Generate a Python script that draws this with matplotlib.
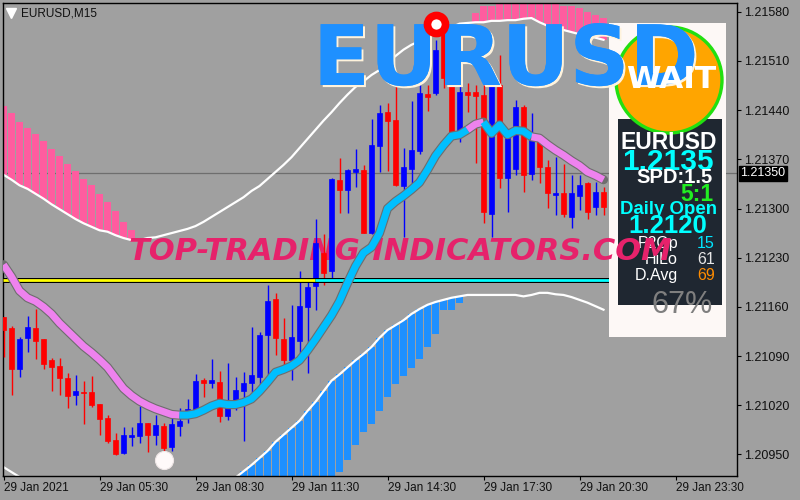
import matplotlib
matplotlib.use("Agg")
import matplotlib.pyplot as plt
import matplotlib.patheffects as pe
from matplotlib.patches import Rectangle, Circle
from matplotlib.transforms import IdentityTransform, blended_transform_factory
import numpy as np

W, H = 800, 500
BG = "#A0A0A0"

# ---- EURUSD M15 candles (bar index 0 = 29 Jan 02:30) ----
opens = [1.21146, 1.21130, 1.21072, 1.21116, 1.21130, 1.21114, 1.21084, 1.21076, 1.21059, 1.21035,
         1.21039, 1.21039, 1.21022, 1.21002, 1.20971, 1.20952, 1.20975, 1.20976, 1.20995, 1.20978,
         1.20990, 1.20961, 1.20990, 1.21009, 1.21010, 1.21056, 1.21052, 1.21053, 1.21005, 1.21026,
         1.21040, 1.21052, 1.21060, 1.21120, 1.21171, 1.21114, 1.21084, 1.21111, 1.21160, 1.21190,
         1.21237, 1.21211, 1.21341, 1.21326, 1.21352, 1.21355, 1.21265, 1.21389, 1.21437, 1.21426,
         1.21332, 1.21356, 1.21382, 1.21463, 1.21464, 1.21551, 1.21477, 1.21407, 1.21466, 1.21466,
         1.21462, 1.21292, 1.21476, 1.21343, 1.21356, 1.21444, 1.21349, 1.21400, 1.21359, 1.21319,
         1.21322, 1.21288, 1.21318, 1.21336, 1.21302, 1.21323]
highs = [1.21146, 1.21133, 1.21117, 1.21147, 1.21157, 1.21114, 1.21087, 1.21087, 1.21066, 1.21063,
         1.21055, 1.21062, 1.21022, 1.21006, 1.20980, 1.20989, 1.20989, 1.21019, 1.20995, 1.21006,
         1.20995, 1.21013, 1.21016, 1.21029, 1.21064, 1.21059, 1.21086, 1.21069, 1.21080, 1.21060,
         1.21067, 1.21131, 1.21124, 1.21191, 1.21180, 1.21144, 1.21163, 1.21211, 1.21195, 1.21285,
         1.21264, 1.21343, 1.21372, 1.21356, 1.21385, 1.21362, 1.21427, 1.21447, 1.21450, 1.21479,
         1.21386, 1.21453, 1.21476, 1.21476, 1.21540, 1.21561, 1.21497, 1.21479, 1.21479, 1.21476,
         1.21476, 1.21483, 1.21518, 1.21412, 1.21454, 1.21447, 1.21436, 1.21405, 1.21369, 1.21373,
         1.21363, 1.21348, 1.21348, 1.21338, 1.21338, 1.21331]
lows = [1.21089, 1.21035, 1.21060, 1.21096, 1.21086, 1.21072, 1.21040, 1.21035, 1.21016, 1.21020,
        1.20993, 1.21018, 1.20978, 1.20967, 1.20949, 1.20951, 1.20962, 1.20966, 1.20953, 1.20963,
        1.20955, 1.20955, 1.20976, 1.20995, 1.21006, 1.21032, 1.21045, 1.20996, 1.20999, 1.21013,
        1.20969, 1.21037, 1.21049, 1.21056, 1.21092, 1.21077, 1.21056, 1.21089, 1.21066, 1.21156,
        1.21191, 1.21201, 1.21294, 1.21294, 1.21331, 1.21265, 1.21264, 1.21352, 1.21353, 1.21332,
        1.21259, 1.21329, 1.21378, 1.21439, 1.21462, 1.21471, 1.21402, 1.21395, 1.21437, 1.21365,
        1.21279, 1.21259, 1.21329, 1.21295, 1.21348, 1.21323, 1.21341, 1.21336, 1.21301, 1.21291,
        1.21288, 1.21272, 1.21298, 1.21285, 1.21291, 1.21291]
closes = [1.21127, 1.21072, 1.21114, 1.21131, 1.21111, 1.21079, 1.21074, 1.21059, 1.21033, 1.21040,
          1.21037, 1.21020, 1.21000, 1.20969, 1.20951, 1.20978, 1.20978, 1.20995, 1.20978, 1.20992,
          1.20959, 1.20993, 1.20998, 1.21015, 1.21055, 1.21052, 1.21056, 1.21005, 1.21027, 1.21042,
          1.21052, 1.21063, 1.21120, 1.21168, 1.21116, 1.21084, 1.21117, 1.21161, 1.21188, 1.21251,
          1.21208, 1.21342, 1.21326, 1.21355, 1.21356, 1.21265, 1.21390, 1.21436, 1.21425, 1.21333,
          1.21359, 1.21383, 1.21464, 1.21459, 1.21525, 1.21486, 1.21407, 1.21466, 1.21462, 1.21460,
          1.21295, 1.21476, 1.21343, 1.21400, 1.21444, 1.21348, 1.21400, 1.21359, 1.21322, 1.21322,
          1.21292, 1.21322, 1.21333, 1.21295, 1.21323, 1.21302]

# ---- trend moving average and its direction (1 = up / cyan, 0 = down / violet) ----
ma_line = [1.21220, 1.21203, 1.21183, 1.21173, 1.21168, 1.21160, 1.21150, 1.21137, 1.21126, 1.21115,
           1.21104, 1.21095, 1.21085, 1.21074, 1.21059, 1.21044, 1.21034, 1.21026, 1.21020, 1.21015,
           1.21011, 1.21007, 1.21006, 1.21006, 1.21008, 1.21013, 1.21019, 1.21023, 1.21021, 1.21021,
           1.21024, 1.21029, 1.21040, 1.21053, 1.21067, 1.21071, 1.21076, 1.21084, 1.21098, 1.21114,
           1.21131, 1.21148, 1.21168, 1.21194, 1.21218, 1.21237, 1.21245, 1.21265, 1.21300, 1.21310,
           1.21318, 1.21327, 1.21337, 1.21355, 1.21375, 1.21390, 1.21403, 1.21405, 1.21412, 1.21420,
           1.21423, 1.21407, 1.21419, 1.21405, 1.21411, 1.21410, 1.21402, 1.21400, 1.21391, 1.21383,
           1.21376, 1.21368, 1.21361, 1.21352, 1.21347, 1.21341]
ma_trend = [0, 0, 0, 0, 0, 0, 0, 0, 0, 0, 0, 0, 0, 0, 0, 0, 0, 0, 0, 0, 0, 0, 0, 1, 1,
            1, 1, 1, 1, 1, 1, 1, 1, 1, 1, 1, 1, 1, 1, 1, 1, 1, 1, 1, 1, 1, 1, 1, 1, 1,
            1, 1, 1, 1, 1, 1, 1, 1, 1, 0, 0, 1, 1, 1, 1, 1, 1, 0, 0, 0, 0, 0, 0, 0, 0, 0]

# ---- channel bands ----
upper_band = [1.21348, 1.21341, 1.21333, 1.21328, 1.21321, 1.21314, 1.21306, 1.21299, 1.21292, 1.21285,
              1.21279, 1.21274, 1.21269, 1.21267, 1.21262, 1.21258, 1.21255, 1.21255, 1.21258, 1.21259,
              1.21262, 1.21265, 1.21268, 1.21271, 1.21275, 1.21281, 1.21288, 1.21295, 1.21302, 1.21309,
              1.21316, 1.21325, 1.21332, 1.21342, 1.21352, 1.21362, 1.21373, 1.21386, 1.21399, 1.21412,
              1.21425, 1.21437, 1.21450, 1.21462, 1.21473, 1.21481, 1.21490, 1.21497, 1.21508, 1.21517,
              1.21526, 1.21533, 1.21538, 1.21544, 1.21550, 1.21554, 1.21558, 1.21563, 1.21564, 1.21565,
              1.21565, 1.21567, 1.21567, 1.21568, 1.21568, 1.21570, 1.21571, 1.21565, 1.21560, 1.21557,
              1.21554, 1.21551, 1.21548, 1.21546, 1.21543, 1.21540]
lower_band_left = [1.20932, 1.20925, 1.20918]          # bars 0-2
lower_band_start = 29
lower_band = [1.20917, 1.20926, 1.20935, 1.20945, 1.20955, 1.20968, 1.20978, 1.20988, 1.20998, 1.21012,
              1.21025, 1.21040, 1.21055, 1.21064, 1.21074, 1.21084, 1.21093, 1.21103, 1.21116, 1.21127,
              1.21134, 1.21141, 1.21150, 1.21157, 1.21163, 1.21167, 1.21170, 1.21173, 1.21175, 1.21177,
              1.21177, 1.21177, 1.21177, 1.21177, 1.21177, 1.21177, 1.21175, 1.21177, 1.21180, 1.21180,
              1.21178, 1.21177, 1.21174, 1.21170, 1.21166, 1.21161, 1.21156]

# pink histogram above the upper band (bars 0-16 and 59-75)
pink_left_top = [1.21446, 1.21436, 1.21423, 1.21415, 1.21406, 1.21396, 1.21385, 1.21375, 1.21363,
                 1.21353, 1.21342, 1.21333, 1.21321, 1.21309, 1.21296, 1.21281, 1.21269]
pink_right_start = 59
pink_right_top = [1.21578, 1.21588, 1.21588, 1.21600, 1.21600, 1.21600, 1.21600, 1.21600, 1.21600,
                  1.21600, 1.21600, 1.21588, 1.21588, 1.21585, 1.21580, 1.21575, 1.21571]
# blue histogram below the lower band (bars 30-57)
blue_start = 30
blue_bottom = [1.20900, 1.20900, 1.20900, 1.20900, 1.20900, 1.20900, 1.20900, 1.20900, 1.20900,
               1.20900, 1.20900, 1.20900, 1.20925, 1.20942, 1.20963, 1.20982, 1.20993, 1.21012,
               1.21032, 1.21050, 1.21062, 1.21073, 1.21086, 1.21103, 1.21121, 1.21156, 1.21156, 1.21166]

# signals and levels
buy_dot = (20, 1.20942)
sell_ring = (54, 1.21563)
daily_open = 1.21198
daily_open_switch = 38.95
last_price = 1.21350

time_ticks = [0, 12, 24, 36, 48, 60, 72, 84]
time_labels = ["29 Jan 2021", "29 Jan 05:30", "29 Jan 08:30", "29 Jan 11:30",
               "29 Jan 14:30", "29 Jan 17:30", "29 Jan 20:30", "29 Jan 23:30"]
price_ticks = [1.20950, 1.21020, 1.21090, 1.21160, 1.21230, 1.21300, 1.21370, 1.21440, 1.21510, 1.21580]

# panel readouts
panel_rows = [("P2Op", "15", "#00E5FF"), ("HiLo", "61", "#E6E6E6"), ("D.Avg", "69", "#FF8C00")]

PINK = "#FF5C9F"
BLUE = "#1E90FF"
MA_UP = "#00BFFF"
MA_DN = "#EE82EE"
SANS = "Liberation Sans"


def ptext(ax, x, y, s, **kw):
    """Text placed in pixel coordinates of the 800x500 picture (y from the top)."""
    return ax.text(x, H - y, s, transform=IdentityTransform(), **kw)


def prect(x0, y0, x1, y1, **kw):
    """Rectangle in picture pixel coordinates."""
    return Rectangle((x0, H - y1), x1 - x0, y1 - y0, transform=IdentityTransform(), **kw)


fig = plt.figure(figsize=(W / 100, H / 100), dpi=100, facecolor=BG)
ax = fig.add_axes([3 / W, 24 / H, 734 / W, 473 / H], facecolor=BG)
ax.set_xlim(-0.0625, 91.6875)
ax.set_ylim(1.209194, 1.215924)

k = np.arange(len(opens))
o, hi, lo, c = (np.array(v) for v in (opens, highs, lows, closes))
ub = np.array(upper_band)

# current price line
ax.axhline(last_price, color="#6E6E6E", lw=0.9, zorder=1)

# histograms
pk = np.arange(len(pink_left_top))
ax.bar(pk, np.array(pink_left_top) - ub[pk], bottom=ub[pk], width=0.875, color=PINK, lw=0, zorder=1.5)
pr = np.arange(pink_right_start, pink_right_start + len(pink_right_top))
ax.bar(pr, np.array(pink_right_top) - ub[pr], bottom=ub[pr], width=0.875, color=PINK, lw=0, zorder=1.5)
lb_k = np.arange(lower_band_start, lower_band_start + len(lower_band))
lb = np.array(lower_band)
bk = np.arange(blue_start, blue_start + len(blue_bottom))
ax.bar(bk, lb[bk - lower_band_start] - np.array(blue_bottom), bottom=blue_bottom,
       width=0.875, color=BLUE, lw=0, zorder=1.5)

# band lines
ax.plot(k, ub, color="white", lw=1.6, zorder=2)
ax.plot(np.arange(len(lower_band_left)), lower_band_left, color="white", lw=1.6, zorder=2)
ax.plot(lb_k, lb, color="white", lw=1.6, zorder=2)

# watermark (behind the candles)
wm = dict(fontsize=22, fontweight="bold", fontstyle="oblique", family="DejaVu Sans", color="#E6226B")
ptext(ax, 129, 260, "TOP-TRADING-INDICATORS.COM", zorder=2.5, **wm)

# candles
up = c >= o
col = np.where(up, "#0000FF", "#FF0000")
ax.vlines(k, lo, hi, colors=col, lw=1.0, zorder=3)
ax.bar(k, np.maximum(np.abs(c - o), 0.000012), bottom=np.minimum(o, c), width=0.66,
       color=col, edgecolor=col, lw=0.5, zorder=3)

# daily open line
x_end = 89
ax.hlines(daily_open, -0.0625, x_end, color="black", lw=3.6, zorder=3.5)
ax.hlines(daily_open, -0.0625, daily_open_switch, color="#FFFF00", lw=2.0, zorder=3.6)
ax.hlines(daily_open, daily_open_switch, x_end, color="#00FFFF", lw=2.0, zorder=3.6)

# moving average: grey outline, then coloured runs
ma = np.array(ma_line)
ax.plot(k, ma, color="#6E6E6E", lw=6.6, solid_capstyle="round", solid_joinstyle="round", zorder=3.9)
seg_col = [MA_UP if t else MA_DN for t in ma_trend[1:]]
start = 0
for i in range(1, len(seg_col) + 1):
    if i == len(seg_col) or seg_col[i] != seg_col[start]:
        ax.plot(k[start:i + 1], ma[start:i + 1], color=seg_col[start], lw=5,
                solid_capstyle="butt", solid_joinstyle="round", zorder=4)
        start = i

# info panel
panel = prect(609, 23, 726, 337, fc="#FDF8F6", ec="none", zorder=5)
ax.add_patch(panel)
ax.add_patch(prect(618, 119, 722, 305, fc="#1F2731", ec="none", zorder=5.1))
circ = Circle((669, H - 80), 53, transform=IdentityTransform(), fc="#FFA500", ec="#22E010", lw=2.4, zorder=5.5)
circ.set_clip_path(prect(600, 0, 740, 113))
ax.add_patch(circ)

# big symbol text
ptext(ax, 313, 85, "EURUSD", fontsize=60, fontweight="bold", family="DejaVu Sans", color="#1E90FF", zorder=6,
      path_effects=[pe.withSimplePatchShadow(offset=(1.5, -1.5), shadow_rgbFace="#FFF3DC", alpha=1.0),
                    pe.Normal()])
ptext(ax, 671, 88, "WAIT", ha="center", fontsize=22.5, fontweight="bold", family="DejaVu Sans",
      color="white", zorder=7)

# signal markers
ax.plot(*buy_dot, "o", ms=13, mfc="#FFFAFA", mec="#EEE6E6", mew=0.8, zorder=6.5)
ax.plot(*sell_ring, "o", ms=13, mfc="white", mec="#FF0000", mew=5.5, zorder=6.5)

# panel texts
ptext(ax, 669, 149, "EURUSD", ha="center", fontsize=16.5, fontweight="bold", family=SANS,
      color="white", zorder=7)
ptext(ax, 668, 170, "1.2135", ha="center", fontsize=21.5, fontweight="bold", family=SANS, color="#00FFFF", zorder=7)
ptext(ax, 713, 183, "SPD:1.5", ha="right", fontsize=14.5, fontweight="bold", family=SANS, color="white", zorder=7)
ptext(ax, 713, 201, "5:1", ha="right", fontsize=16.5, fontweight="bold", family=SANS, color="#22EE22", zorder=7)
ptext(ax, 668.5, 214, "Daily Open", ha="center", fontsize=13.4, fontweight="bold", family=SANS,
      color="#00FFFF", zorder=7)
ptext(ax, 668, 233, "1.2120", ha="center", fontsize=18.5, fontweight="bold", family=SANS, color="#00FFFF", zorder=7)
for j, (name, val, vcol) in enumerate(panel_rows):
    yb = 248 + 16 * j
    ptext(ax, 678, yb, name, ha="right", fontsize=11.5, family=SANS, color="white", zorder=7)
    ptext(ax, 715, yb, val, ha="right", fontsize=11.5, family=SANS, color=vcol, zorder=7)
ptext(ax, 713, 313, "67%", ha="right", fontsize=22, family=SANS, color="#7F7F7F", zorder=7)

# watermark again, only where it lies over the panel
t2 = ptext(ax, 129, 260, "TOP-TRADING-INDICATORS.COM", zorder=8, clip_on=True, **wm)
t2.set_clip_path(panel)

# chart caption
ax.plot([10.5], [H - 12.5], marker="v", ms=6.5, color="white", transform=IdentityTransform(), zorder=9)
ptext(ax, 21, 17, "EURUSD,M15", fontsize=8.5, family=SANS, color="#101010", zorder=9)

# axes
ax.set_xticks(time_ticks)
ax.set_xticklabels(time_labels, ha="left", family=SANS, fontsize=8.5, color="#101010")
ax.yaxis.tick_right()
ax.set_yticks(price_ticks)
ax.set_yticklabels([f"{p:.5f}" for p in price_ticks], family=SANS, fontsize=9, color="#101010")
ax.tick_params(axis="x", direction="out", length=3, width=0.8, pad=1.5)
ax.tick_params(axis="y", direction="out", length=3, width=0.8, pad=2)
for s in ax.spines.values():
    s.set_color("black")
    s.set_linewidth(1)

ax.annotate(f"{last_price:.5f}", xy=(1, last_price),
            xycoords=blended_transform_factory(ax.transAxes, ax.transData),
            xytext=(2.5, 0), textcoords="offset points", ha="left", va="center",
            color="white", fontsize=9, family=SANS, annotation_clip=False, zorder=10,
            bbox=dict(boxstyle="square,pad=0.12", fc="black", ec="black"))

fig.savefig("out.png", dpi=100, facecolor=BG)
